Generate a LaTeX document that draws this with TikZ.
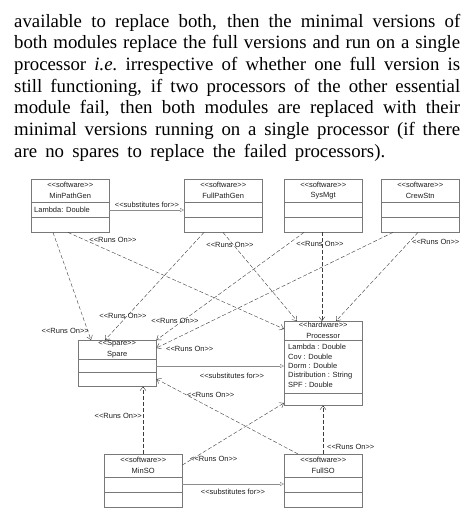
\documentclass[tikz,border=0pt]{standalone}
\usepackage{fontspec}
\usepackage{xcolor}
\usepackage{tikz}
\usetikzlibrary{positioning, calc, arrows.meta}
\newfontfamily\paperfont{Liberation Serif}
\newfontfamily\umlfont{Liberation Sans}
\definecolor{BoxGray}{RGB}{120,120,120}
\definecolor{LineGray}{RGB}{60,60,60}
\definecolor{SubGray}{RGB}{140,140,140}
\definecolor{TextGray}{RGB}{30,30,30}
\tikzset{
    paperline/.style={
        font=\paperfont\fontsize{18.8}{21.7}\selectfont, inner sep=0pt, anchor=base west
    },
    classbox/.style={
        draw=BoxGray, fill=white, minimum width=78pt, inner sep=0pt, anchor=north west
    },
    boxline/.style={
        draw=BoxGray
    },
    stereo/.style={
        font=\umlfont\fontsize{7.5}{9}\selectfont, text=TextGray, inner sep=0pt
    },
    attr/.style={
        font=\umlfont\fontsize{7.5}{9}\selectfont, text=TextGray, inner sep=0pt, anchor=west
    },
    runs/.style={
        -{Straight Barb[length=4pt, width=6pt]}, LineGray, dash pattern=on 4pt off 2pt
    },
    subst/.style={
        -{Triangle[open, length=4pt, width=4pt]}, SubGray
    },
    runslbl/.style={
        font=\umlfont\fontsize{7.5}{9}\selectfont, text=TextGray, inner sep=0pt
    }
}
% one justified line of the paragraph
\newcommand{\jline}[2]{\spaceskip=0.25em plus 1em minus 0.05em\xspaceskip=\spaceskip\hbox to #1{#2}}
% name, corner, header, attributes, operations, stereotype, title
\newcommand{\umlclass}[7]{%
    \node[classbox, minimum height=#3pt+#4pt+#5pt] (#1) at (#2) {};
    \draw[boxline] ([yshift=-#3pt]#1.north west) -- ([yshift=-#3pt]#1.north east);
    \draw[boxline] ([yshift=-#3pt-#4pt]#1.north west) -- ([yshift=-#3pt-#4pt]#1.north east);
    \node[stereo] (#1-st) at ([yshift=-#3pt/2+5.5pt]#1.north) {#6};
    \node[stereo] (#1-nm) at ([yshift=-#3pt/2-5.5pt]#1.north) {#7};
}

\begin{document}
\begin{tikzpicture}[x=1pt, y=-1pt]
    \useasboundingbox (0,0) rectangle (474,523);
    % paragraph above the figure
    \node[paperline] (line1) at (14,27) {\jline{446pt}{available to replace both, then the minimal versions of}};
    \node[paperline] (line2) at (14,48.7) {\jline{446pt}{both modules replace the full versions and run on a single}};
    \node[paperline] (line3) at (14,70.4) {\jline{446pt}{processor \textit{i.e.}\ irrespective of whether one full version is}};
    \node[paperline] (line4) at (14,92.1) {\jline{446pt}{still functioning, if two processors of the other essential}};
    \node[paperline] (line5) at (14,113.8) {\jline{446pt}{module fail, then both modules are replaced with their}};
    \node[paperline] (line6) at (14,135.5) {\jline{446pt}{minimal versions running on a single processor (if there}};
    \node[paperline] (line7) at (14,157.2) {\jline{371pt}{are no spares to replace the failed processors).}};

    % classes
    \umlclass{minpath}{31,179}{23}{15}{15}{<{}<software>{}>}{MinPathGen}
    \umlclass{fullpath}{184,179}{23}{15}{15}{<{}<software>{}>}{FullPathGen}
    \umlclass{sysmgt}{284,179}{23}{15}{15}{<{}<software>{}>}{SysMgt}
    \umlclass{crewstn}{381,179}{23}{15}{15}{<{}<software>{}>}{CrewStn}
    \umlclass{spare}{78,340}{19}{13}{14}{<{}<Spare>{}>}{Spare}
    \umlclass{proc}{284,321}{19}{53}{12}{<{}<hardware>{}>}{Processor}
    \umlclass{minso}{104,454}{23}{15}{15}{<{}<software>{}>}{MinSO}
    \umlclass{fullso}{284,454}{23}{15}{15}{<{}<software>{}>}{FullSO}
    \draw[boxline, line width=1pt] ([yshift=-32pt]spare.north west) -- ([yshift=-32pt]spare.north east);
    \draw[boxline, line width=1pt] ([yshift=-19pt]proc.north west) -- ([yshift=-19pt]proc.north east);

    \node[attr] (mp-a1) at (34,210) {Lambda: Double};
    \node[attr] (pr-a1) at (288,347) {Lambda : Double};
    \node[attr] (pr-a2) at (288,356.5) {Cov : Double};
    \node[attr] (pr-a3) at (288,366) {Dorm : Double};
    \node[attr] (pr-a4) at (288,375.5) {Distribution : String};
    \node[attr] (pr-a5) at (288,385) {SPF : Double};

    % substitutes for
    \draw[subst] ([yshift=-31pt]minpath.north east) -- ([yshift=-31pt]fullpath.north west);
    \node[runslbl] (sub1) at (147,205) {<{}<substitutes for>{}>};
    \draw[subst] ([yshift=-26pt]spare.north east) -- ([yshift=-45pt]proc.north west);
    \node[runslbl] (sub2) at (232,376) {<{}<substitutes for>{}>};
    \draw[subst] ([yshift=-30pt]minso.north east) -- ([yshift=-30pt]fullso.north west);
    \node[runslbl] (sub3) at (233,492) {<{}<substitutes for>{}>};

    % runs on
    \draw[runs] ([xshift=22pt]minpath.south west) -- ([xshift=13pt]spare.north west);
    \node[runslbl, anchor=east] (r1) at (89,331) {<{}<Runs On>{}>};
    \draw[runs] ([xshift=37pt]minpath.south west) -- ([yshift=-8pt]proc.north west);
    \node[runslbl] (r2) at (113,240) {<{}<Runs On>{}>};
    \draw[runs] ([xshift=20pt]fullpath.south west) -- ([xshift=27pt]spare.north west);
    \node[runslbl] (r3) at (123,316) {<{}<Runs On>{}>};
    \draw[runs] ([xshift=39pt]fullpath.south west) -- ([xshift=13pt]proc.north west);
    \node[runslbl] (r4) at (230,245) {<{}<Runs On>{}>};
    \draw[runs] ([xshift=20pt]sysmgt.south west) -- (spare.north east);
    \node[runslbl] (r5) at (175,321) {<{}<Runs On>{}>};
    \draw[runs] ([xshift=12pt]crewstn.south west) -- ([yshift=-8pt]spare.north east);
    \node[runslbl, anchor=west] (r6) at (166,349) {<{}<Runs On>{}>};
    \draw[runs] ([xshift=38pt]sysmgt.south west) -- ([xshift=38pt]proc.north west);
    \node[runslbl] (r7) at (320,244) {<{}<Runs On>{}>};
    \draw[runs] ([xshift=37pt]crewstn.south west) -- ([xshift=52pt]proc.north west);
    \node[runslbl, anchor=west] (r8) at (412,242) {<{}<Runs On>{}>};
    \draw[runs] ([xshift=39pt]minso.north west) -- ([xshift=65pt]spare.south west);
    \node[runslbl, anchor=east] (r9) at (142,416) {<{}<Runs On>{}>};
    \draw[runs] ([yshift=-11pt]minso.north east) -- ([yshift=-82pt]proc.north west);
    \node[runslbl, anchor=west] (r10) at (190,459) {<{}<Runs On>{}>};
    \draw[runs] ([xshift=14pt]fullso.north west) -- ([yshift=-39pt]spare.north east);
    \node[runslbl, anchor=west] (r11) at (187,395) {<{}<Runs On>{}>};
    \draw[runs] ([xshift=39pt]fullso.north west) -- ([xshift=39pt]proc.south west);
    \node[runslbl, anchor=west] (r12) at (327,447) {<{}<Runs On>{}>};
\end{tikzpicture}
\end{document}
